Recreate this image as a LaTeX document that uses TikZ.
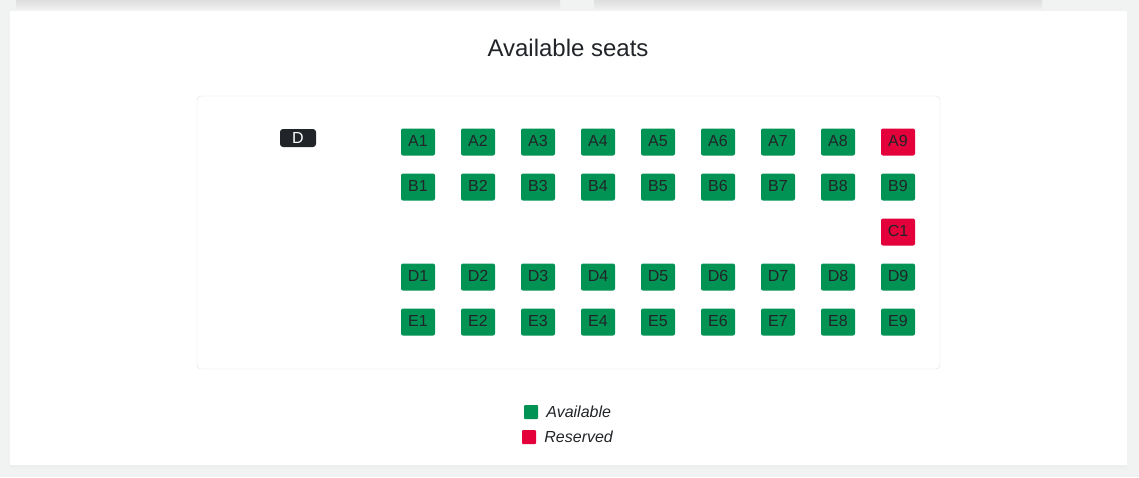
\documentclass[tikz,border=0pt]{standalone}
\usepackage{fontspec}
\setmainfont{Liberation Sans}
\usepackage{xcolor}
\usetikzlibrary{positioning}
\definecolor{pagebg}{HTML}{F1F3F2}
\definecolor{seatgreen}{HTML}{009354}
\definecolor{seatred}{HTML}{E3003B}
\definecolor{inkdark}{HTML}{212529}
\definecolor{boxline}{HTML}{DEE2E6}
\tikzstyle{seat} = [rectangle, fill=seatgreen, rounded corners=2pt, minimum width=34pt, minimum height=27pt,
inner sep=0pt, text=inkdark, font=\fontsize{16}{16}\selectfont]
\tikzstyle{reserved} = [fill=seatred]
\tikzstyle{badge} = [rectangle, fill=inkdark, rounded corners=3pt, minimum width=36pt, minimum height=18pt,
inner sep=0pt, text=white, font=\fontsize{16}{16}\selectfont]
\tikzstyle{key} = [rectangle, minimum size=14pt, inner sep=0pt, rounded corners=1pt]
\tikzstyle{keytext} = [inner sep=0pt, text=inkdark, font=\fontsize{16}{16}\selectfont\itshape]

\begin{document}
\begin{tikzpicture}[x=1pt, y=-1pt]
	
	% Page and cards
	\fill[pagebg] (0,0) rectangle (1139,477);
	\useasboundingbox (0,0) rectangle (1139,477);
	\shade[top color=black!13, bottom color=pagebg] (16,0) rectangle (560,10);
	\shade[top color=black!13, bottom color=pagebg] (594,0) rectangle (1042,10);
	\shade[top color=black!7, bottom color=pagebg] (10,465) rectangle (1127,470);
	\fill[white] (10,11) rectangle (1127,465);
	\node[text=inkdark, font=\fontsize{24}{24}\selectfont] (title) at (568,48) {Available seats};
	\draw[boxline, rounded corners=4pt] (197,96) rectangle (940,369);
	
	% Place seats
	\node [badge] (driver) at (298,138) {D};
	\foreach \row/\ry/\last in {A/142/8, B/187/9, D/277/9, E/322/9}
		\foreach \n in {1,...,\last}
			\node [seat] (\row\n) at ({358+60*\n},\ry) {\raisebox{2pt}{\row\n}};
	\node [seat, reserved] (A9) at (898,142) {\raisebox{2pt}{A9}};
	\node [seat, reserved] (C1) at (898,232) {\raisebox{2pt}{C1}};
	
	% Legend
	\node [key, fill=seatgreen] (availkey) at (531,412) {};
	\node [keytext, right=8pt of availkey] (availtext) {Available};
	\node [key, fill=seatred] (reskey) at (529,437) {};
	\node [keytext, right=8pt of reskey] (restext) {Reserved};
	
\end{tikzpicture}
\end{document}
